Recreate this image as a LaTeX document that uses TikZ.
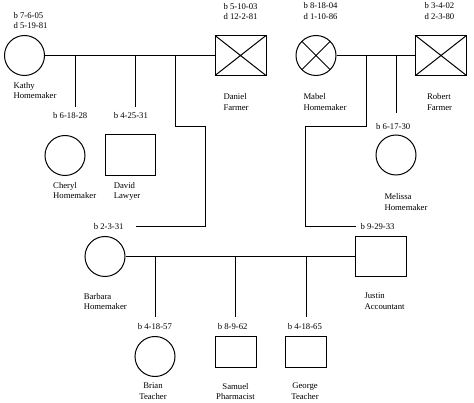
\documentclass[tikz,border=0pt]{standalone}
\usepackage{fontspec}
\setmainfont{Liberation Serif}
\usetikzlibrary{positioning}
\tikzset{%
  female/.style={shape=circle,draw,minimum size=40pt,inner sep=0pt},
  male/.style={shape=rectangle,draw,minimum width=51pt,minimum height=40pt,inner sep=0pt},
  kid/.style={shape=rectangle,draw,minimum width=41pt,minimum height=30pt,inner sep=0pt},
  deceased/.style={path picture={%
    \draw (path picture bounding box.north west) -- (path picture bounding box.south east)
          (path picture bounding box.south west) -- (path picture bounding box.north east);}},
  info/.style={align=left,inner sep=0pt,anchor=north west},
  infoc/.style={align=center,inner sep=0pt,anchor=north}
}
\begin{document}
\begin{tikzpicture}
[x=1pt,y=-1pt,line width=1pt,%
  every node/.append style={font=\fontsize{8.7}{10.4}\selectfont}]
\useasboundingbox (0,0) rectangle (474,403);
% first generation
\node[female] (kathy) at (24.5,55.5) {};
\node[male,deceased] (daniel) at (240.5,55.5) {};
\node[female,deceased] (mabel) at (316,55.5) {};
\node[male,deceased] (robert) at (441,55.5) {};
\node[info] (kathyd) at (13,12) {b 7-6-05\\d 5-19-81};
\node[info] (kathyn) at (13,81.7) {Kathy\\Homemaker};
\node[info] (danield) at (223,2.7) {b 5-10-03\\d 12-2-81};
\node[info] (danieln) at (223,93.3) {Daniel\\Farmer};
\node[info] (mabeld) at (303,2.3) {b 8-18-04\\d 1-10-86};
\node[info] (mabeln) at (303,93.3) {Mabel\\Homemaker};
\node[info] (robertd) at (424,2.3) {b 3-4-02\\d 2-3-80};
\node[info] (robertn) at (426.5,93.3) {Robert\\Farmer};
% second generation
\node[female] (cheryl) at (65,155.5) {};
\node[shape=rectangle,draw,minimum width=50pt,minimum height=41pt] (david) at (130,155.5) {};
\node[female] (melissa) at (396,155) {};
\node[female] (barbara) at (105,256.5) {};
\node[male] (justin) at (381,256.5) {};
\node[info] (cherylb) at (52.7,111.7) {b 6-18-28};
\node[info] (davidb) at (113.3,111.7) {b 4-25-31};
\node[info] (melissab) at (375.7,122.7) {b 6-17-30};
\node[info] (cheryln) at (52.7,181.7) {Cheryl\\Homemaker};
\node[info] (davidn) at (113.3,181.7) {David\\Lawyer};
\node[info] (melissan) at (384,193.3) {Melissa\\Homemaker};
\node[info] (barbarab) at (93.3,223.3) {b 2-3-31};
\node[info] (justinb) at (360,222.7) {b 9-29-33};
\node[info] (barbaran) at (83.3,292.7) {Barbara\\Homemaker};
\node[info] (justinn) at (364,292.7) {Justin\\Accountant};
% third generation
\node[female] (brian) at (155,356.5) {};
\node[kid] (samuel) at (235.5,352) {};
\node[kid] (george) at (306,352) {};
\node[info] (brianb) at (137.3,322.7) {b 4-18-57};
\node[info] (samuelb) at (217.3,322.7) {b 8-9-62};
\node[info] (georgeb) at (287.3,322.7) {b 4-18-65};
\node[infoc] (briann) at (153,382.7) {Brian\\Teacher};
\node[infoc] (samueln) at (235.5,382.7) {Samuel\\Pharmacist};
\node[infoc] (georgen) at (305,382.7) {George\\Teacher};
% marriages
\draw (kathy.east) -- (daniel.west);
\draw (mabel.east) -- (robert.west);
\draw (barbara.east) -- (justin.west);
% descent lines
\coordinate (kd1) at (75,55.5);
\coordinate (kd2) at (135,55.5);
\coordinate (kd3) at (175,55.5);
\coordinate (mr1) at (366,55.5);
\coordinate (mr2) at (396,55.5);
\coordinate (bj1) at (155,256.5);
\coordinate (bj2) at (235.5,256.5);
\coordinate (bj3) at (306,256.5);
\draw (kd1) -- ++(0,51.5);
\draw (kd2) -- ++(0,51.5);
\draw (mr2) -- ++(0,58);
\draw (kd3) -- ++(0,71) -| (205,227) -- ([xshift=12pt]barbarab.east |- 0,227);
\draw (mr1) -- ++(0,71) -| (305.7,227) -- ([xshift=-4pt]justinb.west |- 0,227);
\draw (bj1) -- ++(0,60.5);
\draw (bj2) -- ++(0,60.5);
\draw (bj3) -- ++(0,60.5);
\end{tikzpicture}
\end{document}
